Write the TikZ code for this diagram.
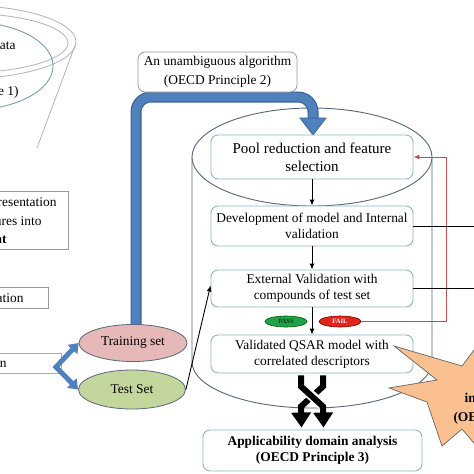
\documentclass[tikz,border=0pt]{standalone}
\usepackage{fontspec}
\setmainfont{Liberation Serif}
\usetikzlibrary{arrows.meta,shapes.geometric}
\definecolor{tealb}{HTML}{8DB6C2}
\definecolor{grayb}{HTML}{9A9A9A}
\definecolor{func}{HTML}{B4B4B4}
\definecolor{funt}{HTML}{6FA3AB}
\definecolor{cylc}{HTML}{56677F}
\definecolor{blf}{HTML}{4F81BD}
\definecolor{bld}{HTML}{3A6397}
\definecolor{redl}{HTML}{C0504D}
\definecolor{pinkf}{HTML}{E6B9B8}
\definecolor{greenf}{HTML}{C3D69B}
\definecolor{orangef}{HTML}{FAC090}
\definecolor{passg}{HTML}{1FA34A}
\definecolor{failr}{HTML}{E3241B}
\newcommand\myfs{\fontsize{13.4}{16}\selectfont}
\begin{document}
\begin{tikzpicture}[x=1pt,y=-1pt,
  box/.style={draw=tealb, line width=0.9pt, rounded corners=7pt, fill=white, align=center, inner sep=0pt, font=\myfs, minimum width=202pt},
  sqbox/.style={draw=#1, line width=0.8pt, fill=white, inner sep=0pt},
  lt/.style={anchor=base east, font=\myfs},
  flow/.style={line width=0.9pt, -{Latex[length=6pt,width=5pt]}},
  oval/.style={ellipse, draw=cylc, line width=0.8pt, inner sep=0pt, font=\myfs},
  tag/.style={ellipse, line width=0.6pt, inner sep=0pt, minimum width=42pt, minimum height=11pt, font=\fontsize{6.5}{7}\selectfont\bfseries},
  cross/.style={line width=6pt, -{Triangle[length=15pt,width=19pt]}}
]
\useasboundingbox (0,0) rectangle (474,474);
\fill[white] (0,0) rectangle (474,474);

% funnel (partly outside the picture)
\draw[func, line width=0.8pt] (-40,42) ellipse [x radius=116, y radius=37];
\draw[func, line width=0.8pt] (-40,43) ellipse [x radius=108, y radius=30];
\coordinate (fa) at (76,43);
\coordinate (fb) at (37,148);
\draw[func, line width=0.8pt] (fa) -- (fb);
\draw[funt, line width=0.9pt] (-30,66) ellipse [x radius=83, y radius=44];
\node[lt] (t1) at (19,49) {Data};
\node[lt] (t2) at (22,95) {(OECD Principle 1)};

% left boxes (partly outside)
\node[sqbox=grayb, minimum width=108pt, minimum height=58pt] (rep) at (14,220) {};
\node[lt] (r1) at (60,206) {Representation};
\node[lt] (r2) at (45,225) {structures into};
\node[lt] (r3) at (10,243) {\bfseries format};
\node[sqbox=grayb, minimum width=88pt, minimum height=21pt] (cur) at (4,297.5) {};
\node[lt] (c1) at (27,302) {Standardization};
\node[sqbox=tealb, minimum width=101pt, minimum height=20pt] (div) at (10.5,363) {};
\node[lt] (d1) at (10,367) {Dataset division};

% cylinder
\draw[cylc, line width=0.9pt, fill=white] (192,157) -- (192,362) arc[start angle=180, end angle=0, x radius=120, y radius=46] -- (432,157);
\draw[cylc, line width=0.9pt, fill=white] (312,157) ellipse [x radius=120, y radius=49];

% big blue arrow
\coordinate (b0) at (136,330);
\coordinate (b1) at (136,97);
\coordinate (b2) at (313,97);
\coordinate (b3) at (313,120);
\draw[bld, line width=11pt, rounded corners=15pt] (b0) -- (b1) -- (b2) -- (b3);
\draw[blf, line width=8.6pt, rounded corners=15pt] (b0) -- (b1) -- (b2) -- (b3);
\fill[blf, draw=bld, line width=0.8pt] (300,118) -- (326,118) -- (313,135) -- cycle;

% boxes inside
\node[box, minimum height=44pt, font=\fontsize{15}{18}\selectfont] (pool) at (312,157) {Pool reduction and feature\\selection};
\node[box, minimum height=40pt] (dev) at (312,226) {Development of model and Internal\\validation};
\node[box, minimum height=37pt] (ext) at (312,288.5) {External Validation with\\compounds of test set};
\node[box, minimum height=38pt] (qsar) at (312,354) {Validated QSAR model with\\correlated descriptors};

\draw[flow] (pool) -- (dev);
\draw[flow] (dev) -- (ext);
\draw[flow] (ext) -- (qsar);

% pass / fail
\node[tag, fill=passg, draw=green!35!black, text=green!25!black] (pass) at (286,321.5) {PASS};
\node[tag, fill=failr, draw=red!50!black, text=white] (fail) at (340,321.5) {FAIL};

% red feedback
\coordinate (rc) at (446,157);
\draw[redl, line width=1pt, -{Latex[length=6pt,width=5pt]}] (fail.east) -| (rc) -- (pool.east);

% outgoing black lines
\coordinate (o1) at (480,226);
\coordinate (o2) at (480,288.5);
\draw[flow, line width=1pt] (dev.east) -- (o1);
\draw[flow, line width=1pt] (ext.east) -- (o2);

% training / test
\node[oval, fill=pinkf, minimum width=108pt, minimum height=37pt] (train) at (133,343) {Training set};
\node[oval, fill=greenf, minimum width=107pt, minimum height=39pt] (test) at (132,389.5) {Test Set};

\coordinate (vtx) at (56,367);
\draw[blf, line width=5pt, line join=miter, {Triangle[length=9pt,width=13pt]}-{Triangle[length=9pt,width=13pt]}] (train.west) -- (vtx) -- (test.west);

\draw[flow] (test.east) -- ([yshift=3pt]ext.west);

% applicability
\node[box, minimum width=219pt, minimum height=41pt, font=\myfs\bfseries] (appl) at (312.5,450.5) {Applicability domain analysis\\(OECD Principle 3)};

% crossing arrows
\draw[cross] ([xshift=11pt,yshift=-2pt]qsar.south) -- ++(0,11) -- ++(-22,20) -- ([xshift=-11pt,yshift=2pt]appl.north);
\draw[white, line width=10pt] (302,387) -- (322,405);
\draw[cross] ([xshift=-11pt,yshift=-2pt]qsar.south) -- ++(0,11) -- ++(22,20) -- ([xshift=11pt,yshift=2pt]appl.north);

% starburst
\filldraw[fill=orangef, draw=black!60, line width=0.7pt] (394,346) -- (462,366) -- (492,326) -- (530,350) -- (530,474) -- (500,474) -- (462,429) -- (442,446) -- (427,402) -- (389,388) -- (437,380) -- cycle;
\node[anchor=base west, font=\myfs\bfseries] (s1) at (471,386.5) {Mechanistic};
\node[anchor=base west, font=\myfs\bfseries] (s2) at (461,402) {interpretation};
\node[anchor=base west, font=\myfs\bfseries] (s3) at (450,421.5) {(OECD Principle 5)};

% algorithm box
\node[draw=grayb, line width=0.8pt, rounded corners=7pt, fill=white, align=center, inner sep=0pt, minimum width=159pt, minimum height=40pt, font=\fontsize{13.4}{19}\selectfont] (algo) at (217.5,72) {An unambiguous algorithm\\(OECD Principle 2)};
\end{tikzpicture}
\end{document}
